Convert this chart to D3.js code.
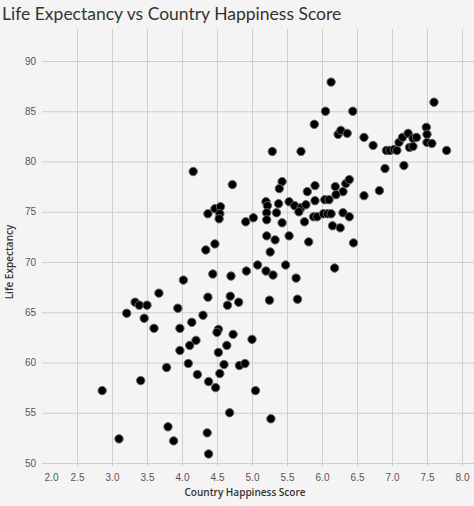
<!DOCTYPE html>
<html>
<head>
<meta charset="utf-8">
<script src="https://cdn.jsdelivr.net/npm/d3@7"></script>
<style>
  body { margin: 0; background: #f4f4f4; font-family: "Open Sans", sans-serif; }
  .grid line { stroke: #cfcfcf; }
  .grid path { display: none; }
  .tick text { fill: #555; font-size: 10px; }
</style>
</head>
<body>
<div id="viz"></div>
<script>
// happiness score (x) and life expectancy (y)
const happiness = [2.86,3.10,3.21,3.33,3.39,3.50,3.46,3.67,3.60,3.41,3.78,3.80,3.88,3.94,3.97,3.97,4.02,4.14,4.11,4.20,
  4.09,4.22,4.30,4.37,4.38,4.36,4.38,4.34,4.47,4.44,4.70,4.92,5.08,5.20,5.30,5.48,5.63,5.26,5.33,4.69,
  4.65,4.81,5.25,5.65,4.52,4.50,4.73,5.00,4.64,4.52,4.60,4.82,4.90,4.54,4.48,5.05,4.68,5.27,5.29,5.70,
  4.16,4.72,5.43,5.39,5.90,5.79,6.19,6.34,6.39,6.30,6.20,6.60,5.20,5.22,5.38,5.53,5.61,5.70,5.77,5.90,
  6.04,6.10,5.67,5.21,5.35,5.21,5.02,4.91,5.43,5.75,5.88,5.93,6.02,6.08,6.13,6.30,6.39,6.15,6.26,5.21,
  5.53,5.81,6.45,6.18,6.05,6.44,5.89,6.23,6.27,6.36,6.60,4.37,4.47,4.55,4.54,4.53,6.13,7.60,6.73,6.92,
  6.97,7.03,7.07,7.10,7.15,7.23,7.30,7.35,7.25,7.30,7.49,7.50,7.50,7.57,7.78,6.90,7.17,6.82];
const lifeExp = [57.2,52.4,64.9,66.0,65.7,65.7,64.4,66.9,63.4,58.2,59.5,53.6,52.2,65.4,63.4,61.2,68.2,64.0,61.7,62.2,
  59.9,58.8,64.7,66.5,58.1,53.0,50.9,71.2,71.8,68.8,68.6,69.1,69.7,69.1,68.7,69.7,68.4,71.0,72.2,66.6,
  65.7,66.0,66.2,66.3,63.3,63.0,62.8,62.3,61.7,61.0,59.8,59.7,59.9,58.9,57.5,57.2,55.0,54.4,81.0,81.0,
  79.0,77.7,78.0,77.3,77.6,77.0,77.5,77.8,78.2,77.0,76.7,76.6,76.0,75.6,75.8,76.0,75.6,75.4,75.7,76.1,
  76.2,76.2,75.0,74.9,74.9,74.2,74.4,74.0,73.9,74.0,74.5,74.5,74.8,74.8,74.8,74.9,74.5,73.6,73.4,72.6,
  72.6,72.0,71.9,69.4,85.0,85.0,83.7,82.7,83.1,82.8,82.4,74.8,75.3,75.5,74.8,74.3,87.9,85.9,81.6,81.1,
  81.1,81.2,81.1,81.9,82.4,82.8,82.3,82.4,81.4,81.5,83.4,82.7,81.9,81.8,81.1,79.3,79.6,77.1];
const xTicks = [2.0,2.5,3.0,3.5,4.0,4.5,5.0,5.5,6.0,6.5,7.0,7.5,8.0];
const yTicks = [50,55,60,65,70,75,80,85,90];

const W = 474, H = 506;
const svg = d3.select("#viz").append("svg").attr("width", W).attr("height", H);

const x = d3.scaleLinear().domain([2, 8]).range([42, 462]);
const y = d3.scaleLinear().domain([50, 90]).range([463, 61]);

svg.append("text").attr("x", 2).attr("y", 20)
  .attr("font-family", "Lato, sans-serif")
  .attr("font-size", 17.5).attr("fill", "#333").text("Life Expectancy vs Country Happiness Score");

// vertical grid
const gx = svg.append("g").attr("class", "grid")
  .attr("transform", "translate(0,29)")
  .call(d3.axisBottom(x).tickValues(xTicks).tickSize(437).tickFormat(d3.format(".1f")));
gx.selectAll(".tick").filter(d => d === 2).select("line").remove();
gx.selectAll(".tick text").attr("dy", 12);
gx.selectAll(".tick").filter(d => d === 2).select("text").attr("dx", 9);

// horizontal grid
const gy = svg.append("g").attr("class", "grid")
  .attr("transform", "translate(42,0)")
  .call(d3.axisRight(y).tickValues(yTicks).tickSize(432));
gy.selectAll(".tick text").attr("x", -6).attr("text-anchor", "end");

svg.append("text").attr("x", W / 2 + 8).attr("y", 496).attr("text-anchor", "middle")
  .attr("font-size", 10).attr("font-weight", 600).attr("fill", "#333").text("Country Happiness Score");
svg.append("text").attr("transform", "translate(13,262) rotate(-90)").attr("text-anchor", "middle")
  .attr("font-size", 10).attr("font-weight", 600).attr("fill", "#333").text("Life Expectancy");

svg.append("g").selectAll("circle")
  .data(happiness.map((h, i) => [h, lifeExp[i]]))
  .enter().append("circle")
  .attr("cx", d => x(d[0]))
  .attr("cy", d => y(d[1]))
  .attr("r", 4.2)
  .attr("fill", "#000")
  .attr("stroke", "#666")
  .attr("stroke-width", 1);
</script>
</body>
</html>
